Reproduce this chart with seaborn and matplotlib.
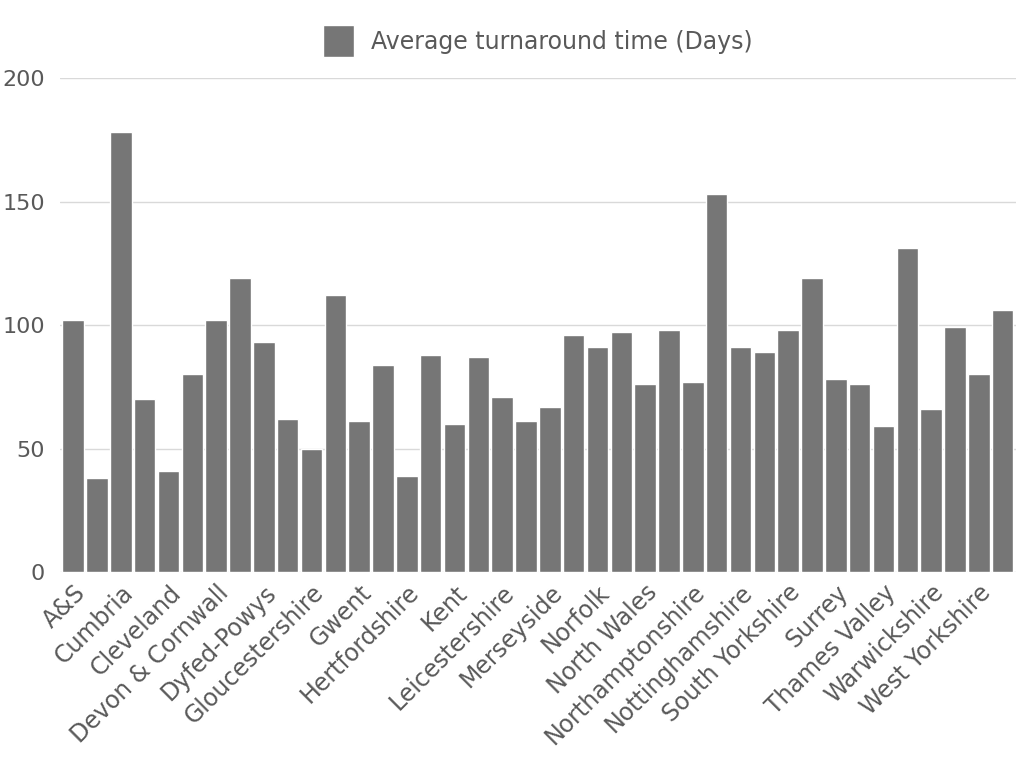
import pandas as pd
import matplotlib.pyplot as plt
import seaborn as sns

# forces (only every other name is shown on the axis)
forces = [
    "A&S", "Bedfordshire", "Cumbria", "Cambridgeshire", "Cleveland", "Derbyshire",
    "Devon & Cornwall", "Dorset", "Dyfed-Powys", "Essex", "Gloucestershire",
    "Greater Manchester", "Gwent", "Hampshire", "Hertfordshire", "Humberside",
    "Kent", "Lancashire", "Leicestershire", "Lincolnshire", "Merseyside",
    "Metropolitan", "Norfolk", "North Yorkshire", "North Wales", "Northumbria",
    "Northamptonshire", "Durham", "Nottinghamshire", "South Wales",
    "South Yorkshire", "Staffordshire", "Surrey", "Sussex", "Thames Valley",
    "Suffolk", "Warwickshire", "West Mercia", "West Yorkshire", "Wiltshire",
]
days = [
    102, 38, 178, 70, 41, 80, 102, 119, 93, 62,
    50, 112, 61, 84, 39, 88, 60, 87, 71, 61,
    67, 96, 91, 97, 76, 98, 77, 153, 91, 89,
    98, 119, 78, 76, 59, 131, 66, 99, 80, 106,
]
y_ticks = [0, 50, 100, 150, 200]

df = pd.DataFrame({"force": forces, "days": days})

sns.set_style("white")
plt.rcParams["font.family"] = ["DejaVu Sans"]
text_col = "#595959"

fig = plt.figure(figsize=(10.24, 7.68), dpi=100)
ax = fig.add_axes([0.0586, 0.2552, 0.9334, 0.6432])

sns.barplot(x="force", y="days", data=df, color="#767676", saturation=1,
            width=0.9, label="Average turnaround time (Days)", ax=ax)

ax.set_ylim(0, 200)
ax.set_xlim(-0.55, len(forces) - 0.45)
ax.set_yticks(y_ticks)
ax.yaxis.grid(True, color="#d9d9d9", linewidth=1)
ax.set_axisbelow(True)
for s in ax.spines.values():
    s.set_visible(False)

ax.set_xticks(range(0, len(forces), 2))
ax.set_xticklabels(forces[::2], rotation=45, ha="right", rotation_mode="anchor",
                   fontsize=17, color=text_col)
ax.tick_params(axis="y", labelsize=16, labelcolor=text_col, length=0, pad=11)
ax.tick_params(axis="x", length=0, pad=6)
ax.set_xlabel("")
ax.set_ylabel("")

leg = ax.legend(loc="upper center", bbox_to_anchor=(0.5, 1.15), frameon=False,
                fontsize=17, handlelength=1.3, handleheight=1.7, handletextpad=0.7)
for t in leg.get_texts():
    t.set_color(text_col)

fig.savefig("out.png", dpi=100)
